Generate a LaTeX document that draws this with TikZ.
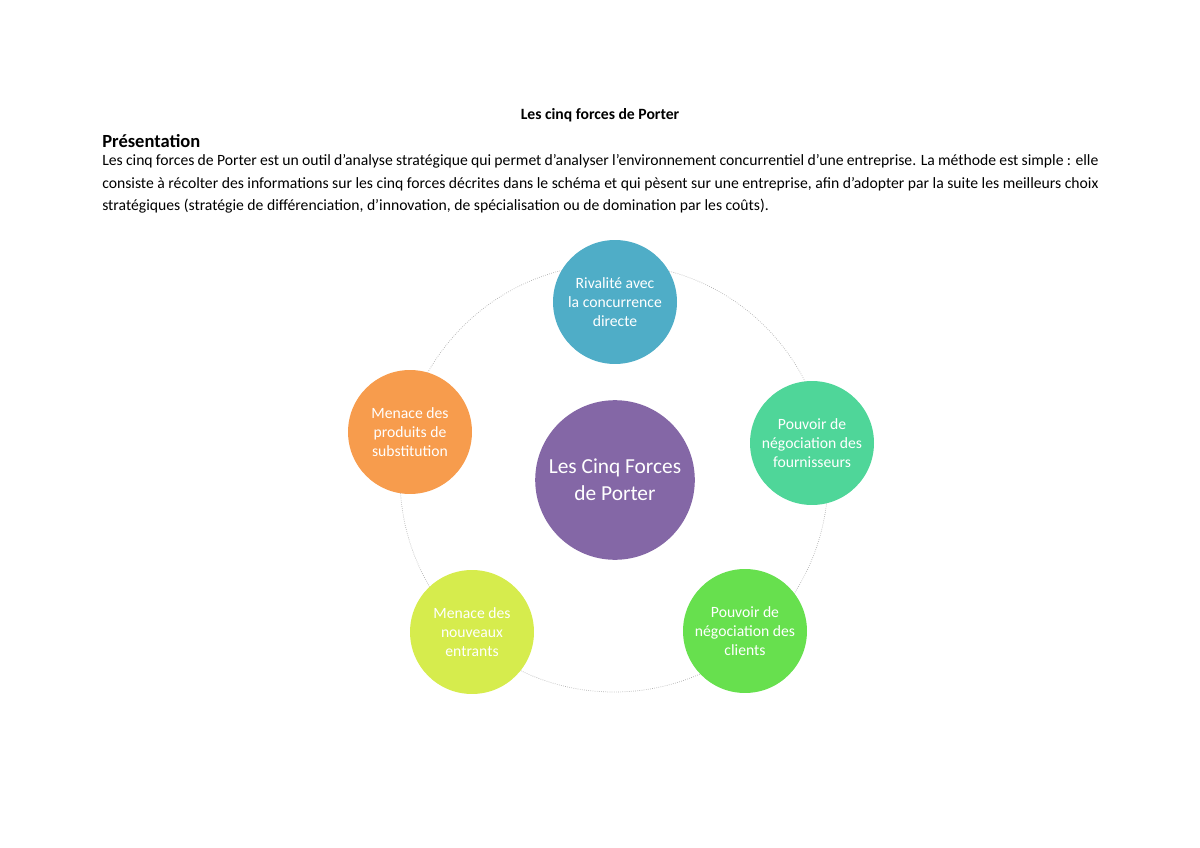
\documentclass[tikz,border=0pt]{standalone}
\usepackage{fontspec}
\setmainfont{Carlito}
\begin{document}
\begin{tikzpicture}[x=0.7017pt,y=-0.7017pt,
  force/.style={circle,minimum size=87pt,inner sep=0pt,text=white,align=center,font=\fontsize{11}{13.5}\selectfont},
  ring/.style={draw=gray!60,densely dotted,line width=0.5pt}]
\useasboundingbox (0,0) rectangle (1200,848);
\definecolor{cTop}{HTML}{4FADC7}
\definecolor{cRight}{HTML}{4FD699}
\definecolor{cBR}{HTML}{67E04E}
\definecolor{cBL}{HTML}{D6EC4D}
\definecolor{cLeft}{HTML}{F79C4D}
\definecolor{cMid}{HTML}{8467A6}
\node[font=\bfseries\fontsize{11}{13}\selectfont] (title) at (600,115) {Les cinq forces de Porter};
\node[anchor=west,font=\bfseries\fontsize{13}{15}\selectfont,inner sep=0pt] (pres) at (102,141) {Présentation};
\node[anchor=north west,inner sep=0pt,text width=699pt,align=justify,font=\fontsize{11}{16}\selectfont] (body) at (102,154)
{Les cinq forces de Porter est un outil d’analyse stratégique qui permet d’analyser l’environnement concurrentiel d’une entreprise. La méthode est simple : elle consiste à récolter des informations sur les cinq forces décrites dans le schéma et qui pèsent sur une entreprise, afin d’adopter par la suite les meilleurs choix stratégiques (stratégie de différenciation, d’innovation, de spécialisation ou de domination par les coûts).};
\draw[ring] (614,478) circle[radius=214];
\node[force,fill=cMid,minimum size=112pt,font=\fontsize{15}{19}\selectfont] (mid) at (615,480) {Les Cinq Forces\\de Porter};
\node[force,fill=cTop] (top) at (615,302) {Rivalité avec\\la concurrence\\directe};
\node[force,fill=cRight] (right) at (812,443) {Pouvoir de\\négociation des\\fournisseurs};
\node[force,fill=cBR] (br) at (745,631) {Pouvoir de\\négociation des\\clients};
\node[force,fill=cBL] (bl) at (472,632) {Menace des\\nouveaux\\entrants};
\node[force,fill=cLeft] (left) at (410,432) {Menace des\\produits de\\substitution};
\end{tikzpicture}
\end{document}
